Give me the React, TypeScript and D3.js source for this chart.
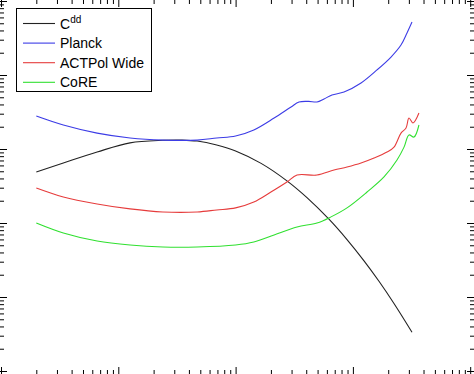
import React, { useEffect, useRef } from "react";
import * as d3 from "d3";

// multipole values and spectra
const ellPlanck = [2, 3.4, 6.6, 12.6, 24, 47, 69, 100, 143, 213, 297, 347, 420, 494, 567, 663, 840, 1173, 1604, 2113, 2570, 2893, 3190];
const planck = [2.79e-7, 2.11e-7, 1.64e-7, 1.41e-7, 1.32e-7, 1.32e-7, 1.41e-7, 1.5e-7, 1.81e-7, 2.62e-7, 3.7e-7, 4.32e-7, 4.4e-7, 4.32e-7, 4.74e-7, 5.37e-7, 5.89e-7, 7.8e-7, 1.17e-6, 1.75e-6, 2.54e-6, 3.7e-6, 5.2e-6];

const ellCdd = [2, 3.4, 6.6, 12.6, 24, 35, 47, 69, 100, 165, 274, 406, 625, 891, 1244, 1669, 2240, 3190];
const cdd = [4.89e-8, 6.47e-8, 9.11e-8, 1.21e-7, 1.31e-7, 1.32e-7, 1.28e-7, 1.13e-7, 9.4e-8, 6.39e-8, 3.71e-8, 2.2e-8, 1.125e-8, 5.97e-9, 3.08e-9, 1.63e-9, 8.17e-10, 3.34e-10];

const ellActpol = [2, 3.4, 6.6, 12.6, 24, 47, 69, 100, 143, 200, 274, 334, 494, 690, 891, 1173, 1514, 1953, 2240, 2570, 2837, 3007, 3252, 3656];
const actpol = [2.97e-8, 2.25e-8, 1.81e-8, 1.55e-8, 1.41e-8, 1.41e-8, 1.5e-8, 1.6e-8, 1.92e-8, 2.62e-8, 3.58e-8, 4.45e-8, 4.45e-8, 5.2e-8, 5.71e-8, 6.47e-8, 7.56e-8, 9.11e-8, 1.06e-7, 1.64e-7, 1.92e-7, 2.62e-7, 2.25e-7, 3.07e-7];

const ellCore = [2, 3.4, 6.6, 12.6, 24, 47, 100, 143, 213, 334, 494, 651, 891, 1320, 1841, 2377, 2728, 3007, 3318, 3656];
const core = [1.0e-8, 7.33e-9, 5.71e-9, 5.04e-9, 4.74e-9, 4.74e-9, 5.04e-9, 5.53e-9, 6.89e-9, 8.83e-9, 1.0e-8, 1.21e-8, 1.6e-8, 2.62e-8, 4.19e-8, 7.1e-8, 1.06e-7, 1.55e-7, 1.45e-7, 2.11e-7];

const seriesNames = ["Cdd", "Planck", "ACTPol Wide", "CoRE"];
const seriesColors = ["#222222", "#3c3ce6", "#e63c3c", "#30e030"];

const W = 474;
const H = 374;

export default function App() {
  const ref = useRef<SVGSVGElement>(null);

  useEffect(() => {
    const svg = d3.select(ref.current);
    svg.selectAll("*").remove();

    const x = d3.scaleLog().domain([1, 1e4]).range([1, 470.2]);
    const y = d3.scaleLog().domain([1e-10, 1e-5]).range([371, 1]);

    const xt = x.ticks();
    const yt = y.ticks();
    const isMajor = (v: number) => Math.abs(Math.log10(v) - Math.round(Math.log10(v))) < 1e-6;

    // inward ticks on all four sides, no frame line visible
    const addAxis = (axis: any, tx: number, ty: number) => {
      const g = svg.append("g").attr("transform", `translate(${tx},${ty})`).call(axis);
      g.select(".domain").remove();
      g.selectAll("line").attr("stroke", "#000");
    };
    const sides = [
      { make: d3.axisBottom, s: x, vals: xt, tx: 0, ty: 374 },
      { make: d3.axisTop, s: x, vals: xt, tx: 0, ty: 0 },
      { make: d3.axisLeft, s: y, vals: yt, tx: 0, ty: 0 },
      { make: d3.axisRight, s: y, vals: yt, tx: 474, ty: 0 },
    ];
    sides.forEach((sd) => {
      addAxis(sd.make(sd.s).tickValues(sd.vals.filter((v) => !isMajor(v))).tickSize(-4).tickFormat(() => ""), sd.tx, sd.ty);
      addAxis(sd.make(sd.s).tickValues(sd.vals.filter(isMajor)).tickSize(-7).tickFormat(() => ""), sd.tx, sd.ty);
    });

    const line = d3
      .line<[number, number]>()
      .x((d) => x(d[0]))
      .y((d) => y(d[1]))
      .curve(d3.curveCatmullRom.alpha(0.5));

    const data: [number, number][][] = [
      ellCdd.map((l, i) => [l, cdd[i]]),
      ellPlanck.map((l, i) => [l, planck[i]]),
      ellActpol.map((l, i) => [l, actpol[i]]),
      ellCore.map((l, i) => [l, core[i]]),
    ];

    svg
      .append("g")
      .selectAll("path")
      .data(data)
      .join("path")
      .attr("d", (d) => line(d))
      .attr("fill", "none")
      .attr("stroke", (_, i) => seriesColors[i])
      .attr("stroke-width", 1.1);

    // legend
    const lg = svg.append("g").attr("transform", "translate(16.5,8.5)");
    lg.append("rect").attr("width", 135).attr("height", 83).attr("fill", "#fff").attr("stroke", "#000");
    seriesNames.forEach((name, i) => {
      const cy = 15 + i * 19.6;
      lg.append("line")
        .attr("x1", 6.5)
        .attr("x2", 38.5)
        .attr("y1", cy)
        .attr("y2", cy)
        .attr("stroke", seriesColors[i])
        .attr("stroke-width", 1.1);
      const t = lg
        .append("text")
        .attr("x", 43.5)
        .attr("y", cy + 5)
        .style("font-family", "'Liberation Sans', Arial, sans-serif")
        .style("font-size", "14px")
        .attr("fill", "#000");
      if (name === "Cdd") {
        t.append("tspan").text("C");
        t.append("tspan").attr("dy", -6).style("font-size", "10px").text("dd");
      } else {
        t.text(name);
      }
    });
  }, []);

  return (
    <svg
      ref={ref}
      width={W}
      height={H}
      style={{ position: "absolute", left: 0, top: 0, background: "#fff" }}
    />
  );
}
